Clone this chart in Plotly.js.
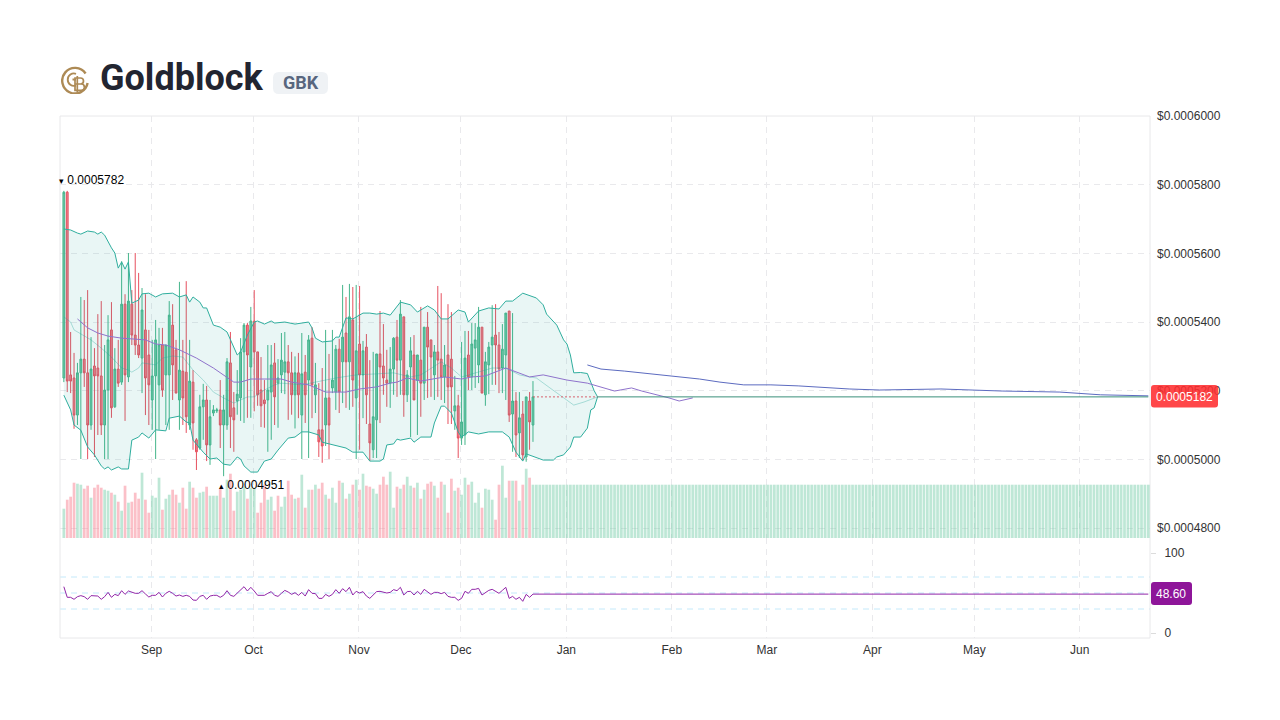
<!DOCTYPE html>
<html>
<head>
<meta charset="utf-8">
<script src="https://cdn.plot.ly/plotly-3.0.1.min.js"></script>
<style>html,body{margin:0;padding:0;background:#fff}#chart{width:1280px;height:720px}</style>
</head>
<body>
<div id="chart"></div>
<script>
// Prices are held in units of 0.0000001 USD
var candleOpen = [5237,5778,5246,5237,5129,5252,5292,5252,5100,5272,5266,5243,5100,5202,5377,5153,5263,5225,5452,5240,
5452,5362,5333,5295,5377,5304,5173,5243,5217,5333,5246,5246,5391,5319,5173,5257,5254,5100,5225,5057,
5033,5153,5173,5042,5135,5141,5144,5100,5100,5281,5150,5170,5179,5313,5391,5269,5403,5313,5202,5173,
5173,5196,5281,5222,5246,5254,5284,5252,5188,5252,5129,5254,5231,5353,5188,5086,5086,5100,5179,5208,
5196,5321,5284,5368,5284,5406,5179,5336,5246,5327,5103,5028,5115,5307,5272,5231,5222,5263,5356,5289,
5415,5188,5269,5304,5230,5289,5222,5385,5348,5246,5313,5292,5240,5304,5292,5141,5156,5062,5071,5304,
5240,5324,5275,5385,5188,5275,5333,5362,5333,5266,5304,5432,5132,5170,5077,5132,5007,5170,5100];
var candleHigh = [5782,5782,5371,5310,5281,5473,5464,5493,5356,5324,5423,5461,5333,5420,5458,5324,5348,5577,5481,5601,
5493,5601,5543,5499,5481,5377,5348,5406,5383,5383,5333,5461,5452,5348,5517,5348,5519,5348,5260,5062,
5188,5220,5214,5173,5158,5150,5231,5188,5295,5371,5196,5260,5353,5397,5397,5444,5493,5313,5298,5231,
5333,5333,5339,5292,5368,5371,5333,5313,5300,5310,5368,5304,5362,5385,5281,5222,5266,5377,5307,5377,
5333,5351,5508,5473,5511,5502,5508,5505,5345,5365,5289,5313,5307,5432,5394,5319,5327,5356,5406,5464,
5415,5260,5356,5362,5304,5444,5385,5429,5348,5333,5505,5484,5333,5452,5429,5243,5188,5342,5374,5374,
5397,5397,5444,5385,5313,5342,5449,5452,5371,5394,5426,5432,5426,5196,5196,5170,5182,5196,5228];
var candleLow = [5225,5196,5193,5089,5100,5001,5211,5001,5086,5007,5071,5071,5001,5001,5121,5150,5211,5217,5112,5225,
5333,5304,5295,5193,5129,5100,5086,5001,5086,5182,5100,5086,5173,5193,5086,5100,5077,5086,5028,4969,
5028,5057,4995,4984,5126,5135,5033,4951,5086,5033,5022,5130,5112,5106,5121,5121,5140,5156,5094,5092,
5022,5057,5100,5092,5193,5190,5115,5130,5090,5120,5001,5106,5004,5120,5135,5007,4990,5039,5001,5193,
5144,5135,5164,5150,5144,5153,5001,5028,5120,5103,4995,5004,5004,5106,5188,5153,5150,5188,5182,5188,
5124,5167,5065,5173,5071,5124,5173,5179,5182,5173,5182,5173,5164,5103,5103,5086,5004,5042,5042,5202,
5202,5208,5222,5193,5156,5190,5217,5217,5193,5193,5173,5109,5022,5007,5004,4998,4993,5028,5051];
var candleClose = [5778,5228,5228,5129,5252,5292,5252,5100,5263,5243,5243,5100,5202,5348,5150,5263,5222,5452,5246,5461,
5362,5333,5304,5435,5237,5217,5243,5348,5333,5202,5333,5420,5275,5193,5260,5179,5124,5228,5106,5022,
5153,5173,5042,5124,5144,5144,5100,5144,5284,5124,5115,5190,5313,5391,5304,5403,5313,5188,5156,5162,
5202,5275,5182,5237,5289,5284,5252,5188,5252,5188,5249,5188,5348,5217,5217,5051,5039,5179,5100,5231,
5321,5196,5356,5284,5415,5231,5316,5246,5316,5188,5048,5124,5307,5269,5237,5222,5263,5353,5289,5423,
5188,5246,5316,5173,5304,5222,5385,5327,5298,5313,5289,5240,5275,5211,5211,5156,5062,5109,5295,5240,
5336,5348,5385,5193,5284,5327,5356,5333,5263,5321,5426,5129,5170,5071,5121,5013,5182,5109,5182];
var volumeValues = [29.3,38.3,41.3,55.3,54.3,53.3,49.3,52.3,40.3,50.3,53.3,50.3,48.3,47.3,45.3,43.3,36.3,27.3,52.3,35.3,
36.3,45.3,39.3,65.3,38.3,25.3,42.3,40.3,60.3,28.3,39.3,43.3,48.3,43.3,35.3,50.3,29.3,56.3,50.3,40.3,
45.3,46.3,51.3,42.3,42.3,42.3,49.3,40.3,58.3,64.3,27.3,46.3,48.3,51.3,39.3,50.3,50.3,25.3,35.3,53.3,
38.3,41.3,27.3,42.3,31.3,41.3,57.3,43.3,39.3,40.3,63.3,30.3,48.3,48.3,53.3,49.3,55.3,43.3,39.3,50.3,
35.3,57.3,55.3,39.3,44.3,53.3,58.3,48.3,64.3,52.3,51.3,49.3,44.3,53.3,61.3,53.3,66.3,30.3,51.3,49.3,
53.3,61.3,52.3,50.3,55.3,39.3,48.3,54.3,56.3,52.3,40.3,56.3,53.3,25.3,59.3,47.3,50.3,43.3,60.3,53.3,
56.3,35.3,45.3,30.3,49.3,48.3,38.3,18.3,53.3,72.3,40.3,57.3,57.3,57.3,37.3,53.3,69.3,60.3,53.3];
var volumeUp = [1,0,0,0,1,1,0,0,1,0,0,0,1,1,0,1,0,1,0,1,0,0,0,1,0,0,1,1,1,0,1,1,0,0,1,0,0,1,0,0,
1,1,0,1,1,1,0,1,1,0,0,1,1,1,0,1,1,0,0,0,1,1,0,0,1,1,0,0,1,0,
1,0,1,0,1,0,0,1,0,1,1,0,1,0,1,0,1,0,1,0,0,1,1,0,0,0,1,1,0,1,
0,1,1,0,1,0,1,0,0,1,0,0,1,0,0,1,0,1,1,0,1,1,1,0,1,1,1,0,0,1,
1,0,1,0,1,0,1,0,1];
var rsiValues = [57.9,44.6,44.6,42.1,45.4,46.7,45.4,42.1,46.7,46.2,46.2,42.1,45.4,50.8,44.6,48.3,46.7,52.9,48.3,52.5,
50.8,49.6,49.6,52.9,48.8,45,47.1,47.1,50.8,45,49.6,52.1,49.6,46.2,47.5,45.8,47.1,45.8,41.2,40.8,
45.8,47.1,42.1,46.2,47.1,47.1,44.6,47.1,52.9,47.1,45.8,49.6,53.7,57.9,52.5,57.1,52.5,47.1,47.1,47.1,
49.6,51.7,47.1,45.8,49.6,53.3,51.2,48.3,50.4,47.1,50.8,46.2,54.2,49.6,49.2,43.3,43.3,48.3,45.8,48.3,
54.2,49.6,55.4,51.7,57.1,47.5,52.1,50,51.7,46.2,43.3,47.5,51.7,52.1,50.8,50,50.8,54.2,52.9,57.1,
47.5,51.7,52.1,47.5,52.1,48.3,54.6,51.7,48.3,50.8,50.8,49.2,50.8,45.8,44.6,44.6,40.8,43.3,52.1,49.6,
54.6,54.6,55.8,47.5,50.8,53.3,54.6,52.1,49.6,53.3,57.1,43.3,45.8,42.1,44.6,39.6,48.3,44.6,48.6];

var upperDays = [0,2,4,5,7,9,10,11,12,13,14,15,16,17,18,19,20,22,23,25,27,29,32,34,36,37,38,40,41,42,44,45,46,48,49,51,52,54,56,57,59,61,62,65,68,72,73,74,76,79,80,81,83,85,88,90,92,94,96,99,102,104,107,109,111,113,116,118,119,122,123,125,128,130,132,135,139,141,142,145,147,148,149,150,152,154,155,156,157];
var upperBand = [5671,5668,5659,5656,5665,5662,5656,5662,5653,5633,5616,5601,5557,5575,5554,5575,5455,5464,5482,5484,5473,5482,5484,5473,5479,5458,5473,5458,5441,5441,5391,5388,5385,5371,5348,5304,5313,5362,5400,5403,5394,5403,5397,5400,5394,5400,5383,5353,5342,5345,5356,5356,5412,5409,5426,5426,5423,5426,5420,5458,5450,5429,5447,5435,5409,5409,5435,5429,5400,5432,5435,5441,5438,5461,5461,5484,5470,5450,5423,5391,5348,5336,5304,5252,5253,5250,5225,5200,5182];
var lowerDays = [0,2,3,5,7,9,11,12,13,14,16,17,19,20,22,23,25,27,30,31,34,36,37,38,41,43,45,47,49,51,52,53,55,57,59,61,63,66,68,70,72,75,76,81,83,85,88,90,93,94,95,97,98,99,102,103,105,108,109,111,112,114,116,117,119,122,125,129,131,133,135,136,139,141,144,145,147,149,150,152,154,155,156,157];
var lowerBand = [5187,5144,5100,5085,5036,5013,4981,4972,4978,4969,4978,4972,4972,5056,5065,5077,5062,5086,5083,5120,5126,5109,5106,5056,5021,5001,5004,4986,4983,5007,5001,4981,4963,4963,4995,5001,5027,5062,5065,5080,5080,5071,5050,5039,5033,5021,5021,4995,4995,5001,5042,5045,5059,5056,5062,5050,5065,5065,5106,5155,5155,5135,5080,5065,5080,5074,5080,5080,5065,5021,4995,5016,5004,4998,4998,5007,5013,5036,5065,5065,5091,5144,5150,5182];
var midDays = [0,2,3,8,11,14,17,19,20,22,23,27,29,32,35,38,41,44,47,50,54,56,59,62,64,70,80,86,92,97,102,105,111,114,117,122,126,130,134,137,139,143,145,150,153,157];
var midLine = [5415,5400,5377,5348,5324,5298,5266,5260,5254,5266,5281,5275,5295,5301,5298,5260,5231,5196,5179,5164,5182,5182,5202,5217,5222,5217,5237,5246,5249,5252,5240,5246,5284,5266,5240,5254,5266,5266,5246,5240,5237,5208,5193,5158,5167,5182];
var maFastDays = [4,7,10,13,17,24,27,30,34,39,44,47,50,52,55,61,64,67,72,77,83,87,92,96,98,101,105,112,117,120,124,130,133,137,141,148,154,159,162,167,170,178,181,185];
var maFast = [5409,5383,5368,5359,5353,5348,5336,5333,5319,5295,5266,5246,5225,5225,5234,5234,5234,5225,5217,5196,5196,5205,5211,5222,5225,5237,5228,5240,5234,5240,5243,5266,5254,5240,5246,5231,5222,5208,5199,5208,5199,5179,5170,5179];
var maSlowDays = [154,158,165,170,178,187,193,200,208,216,231,240,258,276,293,305,319];
var maSlow = [5275,5263,5257,5252,5243,5234,5225,5217,5217,5214,5205,5202,5205,5199,5196,5188,5185];

var lastPrice = 5182;
var lastRsi = 48.6;
var forecastVolume = 53.3;
var forecastEnd = 319;
var monthTicks = ['2024-09-01','2024-10-01','2024-11-01','2024-12-01','2025-01-01','2025-02-01','2025-03-01','2025-04-01','2025-05-01','2025-06-01'];
var monthLabels = ['Sep','Oct','Nov','Dec','Jan','Feb','Mar','Apr','May','Jun'];
var priceTicks = [6000,5800,5600,5400,5200,5000,4800];
var priceLabels = ['$0.0006000','$0.0005800','$0.0005600','$0.0005400','$0.0005200','$0.0005000','$0.0004800'];
var rsiGuides = [30,50,70];

var price = function (v) { return v / 1e7; };
var startMs = Date.UTC(2024, 7, 6, 4, 30);
var dayAt = function (i) { return new Date(startMs + i * 864e5).toISOString().slice(0, 16).replace('T', ' '); };
var range = function (a, b) { var r = []; for (var i = a; i <= b; i++) r.push(i); return r; };
var pxX = function (p) { return (p - 60) / 1090; };
var pxY = function (p) { return (638 - p) / 522; };
var roundRect = function (x0, y0, x1, y1, r) {
  var X0 = pxX(x0), X1 = pxX(x1), Y0 = pxY(y0), Y1 = pxY(y1), rx = r / 1090, ry = r / 522;
  return 'M' + (X0 + rx) + ',' + Y0 + ' L' + (X1 - rx) + ',' + Y0 + ' Q' + X1 + ',' + Y0 + ' ' + X1 + ',' + (Y0 - ry) +
    ' L' + X1 + ',' + (Y1 + ry) + ' Q' + X1 + ',' + Y1 + ' ' + (X1 - rx) + ',' + Y1 + ' L' + (X0 + rx) + ',' + Y1 +
    ' Q' + X0 + ',' + Y1 + ' ' + X0 + ',' + (Y1 + ry) + ' L' + X0 + ',' + (Y0 - ry) + ' Q' + X0 + ',' + Y0 + ' ' + (X0 + rx) + ',' + Y0 + ' Z';
};

var candleDays = range(0, candleOpen.length - 1);
var futureDays = range(candleOpen.length, forecastEnd);
var allVolDays = candleDays.concat(futureDays);
var allVol = volumeValues.concat(futureDays.map(function () { return forecastVolume; }));
var allVolColor = volumeUp.map(function (u) { return u ? 'rgba(120,205,170,0.48)' : 'rgba(248,130,145,0.5)'; })
  .concat(futureDays.map(function () { return 'rgba(120,205,170,0.48)'; }));

var traces = [
  { type: 'scatter', mode: 'lines', x: upperDays.map(dayAt), y: upperBand.map(price), line: { color: '#2fae9e', width: 1 }, xaxis: 'x', yaxis: 'y', hoverinfo: 'skip' },
  { type: 'scatter', mode: 'lines', x: lowerDays.map(dayAt), y: lowerBand.map(price), line: { color: '#2fae9e', width: 1 }, fill: 'tonexty', fillcolor: 'rgba(38,166,154,0.10)', xaxis: 'x', yaxis: 'y', hoverinfo: 'skip' },
  { type: 'scatter', mode: 'lines', x: midDays.map(dayAt), y: midLine.map(price), line: { color: 'rgba(38,166,154,0.35)', width: 1 }, xaxis: 'x', yaxis: 'y', hoverinfo: 'skip' },
  { type: 'candlestick', x: candleDays.map(dayAt), open: candleOpen.map(price), high: candleHigh.map(price), low: candleLow.map(price), close: candleClose.map(price),
    increasing: { line: { color: '#45b58b', width: 1 }, fillcolor: 'rgba(80,185,145,0.8)' },
    decreasing: { line: { color: '#e6505f', width: 1 }, fillcolor: 'rgba(232,90,105,0.75)' },
    whiskerwidth: 0, xaxis: 'x', yaxis: 'y', hoverinfo: 'skip' },
  { type: 'scatter', mode: 'lines', x: maFastDays.map(dayAt), y: maFast.map(price), line: { color: '#8f73cc', width: 1 }, xaxis: 'x', yaxis: 'y', hoverinfo: 'skip' },
  { type: 'scatter', mode: 'lines', x: maSlowDays.map(dayAt), y: maSlow.map(price), line: { color: '#5c6bc0', width: 1 }, xaxis: 'x', yaxis: 'y', hoverinfo: 'skip' },
  { type: 'scatter', mode: 'lines', x: [candleOpen.length - 1, 157].map(dayAt), y: [lastPrice, lastPrice].map(price), line: { color: '#d6606e', width: 1, dash: '2px,2px' }, xaxis: 'x', yaxis: 'y', hoverinfo: 'skip' },
  { type: 'scatter', mode: 'lines', x: [157, forecastEnd].map(dayAt), y: [lastPrice, lastPrice].map(price), line: { color: '#3a8f7b', width: 1 }, xaxis: 'x', yaxis: 'y', hoverinfo: 'skip' },
  { type: 'bar', x: allVolDays.map(dayAt), y: allVol, marker: { color: allVolColor, line: { width: 0 } }, width: 0.8 * 864e5, xaxis: 'x', yaxis: 'y3', hoverinfo: 'skip' },
  { type: 'scatter', mode: 'lines', x: candleDays.map(dayAt), y: rsiValues, line: { color: '#9226a8', width: 1 }, xaxis: 'x', yaxis: 'y2', hoverinfo: 'skip' },
  { type: 'scatter', mode: 'lines', x: [candleOpen.length - 1, forecastEnd].map(dayAt), y: [lastRsi, lastRsi], line: { color: '#9226a8', width: 1 }, xaxis: 'x', yaxis: 'y2', hoverinfo: 'skip' }
];

var logoSvg = '<svg xmlns="http://www.w3.org/2000/svg" width="84" height="84" viewBox="0 0 28 28" fill="none" stroke="#ad8a55">' +
  '<path d="M24.6 7.5A12.8 12.8 0 1 0 26.6 17" stroke-width="2.4"/>' +
  '<path d="M15 7.8A6.2 6.2 0 1 0 15 19.5M15 13.5h-3.5" stroke-width="1.9"/>' +
  '<path d="M14 12h5.5a3 3 0 0 1 0 6h-5.5zM14 18h6.2a3.2 3.2 0 0 1 0 6.4H14zM16.3 10v16" stroke-width="1.7"/></svg>';

var grid = '#e9e9ec';
var layout = {
  width: 1280, height: 720, autosize: false,
  margin: { l: 60, r: 130, t: 116, b: 82, pad: 0 },
  paper_bgcolor: '#ffffff', plot_bgcolor: '#ffffff',
  showlegend: false, hovermode: false, dragmode: false,
  boxgap: 0.25,
  title: { text: 'Goldblock', x: 100 / 1280, xanchor: 'left', xref: 'container', y: 1 - 77.5 / 720, yanchor: 'middle', yref: 'container',
    font: { family: 'Roboto', size: 36, weight: 700, color: '#222531' }, pad: { t: 0, b: 0, l: 0, r: 0 } },
  font: { family: 'Liberation Sans, Arial, sans-serif', size: 12, color: '#333333' },
  xaxis: { type: 'date', anchor: 'y2', range: [dayAt(-1.13), dayAt(319.5)], tickmode: 'array', tickvals: monthTicks, ticktext: monthLabels,
    showgrid: true, gridcolor: grid, griddash: '6px,5px', gridwidth: 1, zeroline: false, showline: false, ticks: '', rangeslider: { visible: false },
    tickfont: { size: 12, color: '#333333' }, ticklabelstandoff: 3 },
  yaxis: { domain: [pxY(538), 1], side: 'right', anchor: 'x', range: [0.0004771, 0.0006], tickmode: 'array', tickvals: priceTicks.map(price), ticktext: priceLabels,
    showgrid: true, gridcolor: grid, griddash: '6px,5px', gridwidth: 1, zeroline: false, showline: false, ticks: '', ticklabelstandoff: 6,
    tickfont: { size: 12, color: '#333333' } },
  yaxis2: { domain: [0, pxY(538)], side: 'right', anchor: 'x', range: [-6.25, 118.75], tickmode: 'array', tickvals: [100, 0], ticktext: ['100', '0'],
    showgrid: false, zeroline: false, showline: false, ticks: 'outside', ticklen: 5, tickcolor: '#dcdcdc', ticklabelstandoff: 6,
    tickfont: { size: 12, color: '#333333' } },
  yaxis3: { domain: [pxY(538), 1], overlaying: 'y', side: 'left', anchor: 'x', range: [0, 422], visible: false, showgrid: false, zeroline: false },
  images: [{ source: 'data:image/svg+xml;charset=utf-8,' + encodeURIComponent(logoSvg), xref: 'paper', yref: 'paper', x: pxX(61), y: pxY(66), sizex: 28 / 1090, sizey: 28 / 522, sizing: 'stretch', xanchor: 'left', yanchor: 'top', layer: 'above' }],
  shapes: rsiGuides.map(function (g) {
    return { type: 'line', xref: 'paper', yref: 'y2', x0: 0, x1: 1, y0: g, y1: g, line: { color: '#c4e9fa', width: 1, dash: '6px,5px' }, layer: 'below' };
  }).concat([
    { type: 'rect', xref: 'paper', yref: 'paper', x0: 0, x1: 1, y0: 0, y1: 1, line: { color: '#e8e8ea', width: 1 }, layer: 'below' },
    { type: 'path', xref: 'paper', yref: 'paper', path: roundRect(273, 72, 328, 94, 6), fillcolor: '#eff2f5', line: { width: 0 } },
    { type: 'path', xref: 'paper', yref: 'paper', path: roundRect(1151, 385, 1218, 407.5, 3), fillcolor: 'rgba(255,45,48,0.88)', line: { width: 0 } },
    { type: 'path', xref: 'paper', yref: 'paper', path: roundRect(1151, 582, 1192, 605, 3), fillcolor: '#8e1599', line: { width: 0 } }
  ]),
  annotations: [
    { xref: 'paper', yref: 'paper', x: pxX(282), xanchor: 'left', y: pxY(83), yanchor: 'middle', text: '<b>GBK</b>', showarrow: false, borderpad: 0, font: { family: 'Roboto', size: 18, color: '#58667e' } },
    { xref: 'x', yref: 'y', x: dayAt(-1), xanchor: 'left', y: price(5782), yanchor: 'bottom', yshift: 3, xshift: -2, text: '<span style="font-size:9px">▾</span> 0.0005782', showarrow: false, borderpad: 0, font: { size: 12, color: '#000000' } },
    { xref: 'x', yref: 'y', x: dayAt(46.5), xanchor: 'left', y: price(4951), yanchor: 'top', yshift: -1, xshift: -4, text: '<span style="font-size:9px">▴</span> 0.0004951', showarrow: false, borderpad: 0, font: { size: 12, color: '#000000' } },
    { xref: 'paper', yref: 'y', x: pxX(1155), xanchor: 'left', y: price(lastPrice), yanchor: 'middle', text: '0.0005182', showarrow: false, borderpad: 0, font: { size: 12, color: '#ffffff' } },
    { xref: 'paper', yref: 'y2', x: pxX(1155), xanchor: 'left', y: lastRsi, yanchor: 'middle', text: '48.60', showarrow: false, borderpad: 0, font: { size: 12, color: '#ffffff' } }
  ]
};
Plotly.newPlot('chart', traces, layout, { displayModeBar: false, staticPlot: true });
</script>
</body>
</html>
